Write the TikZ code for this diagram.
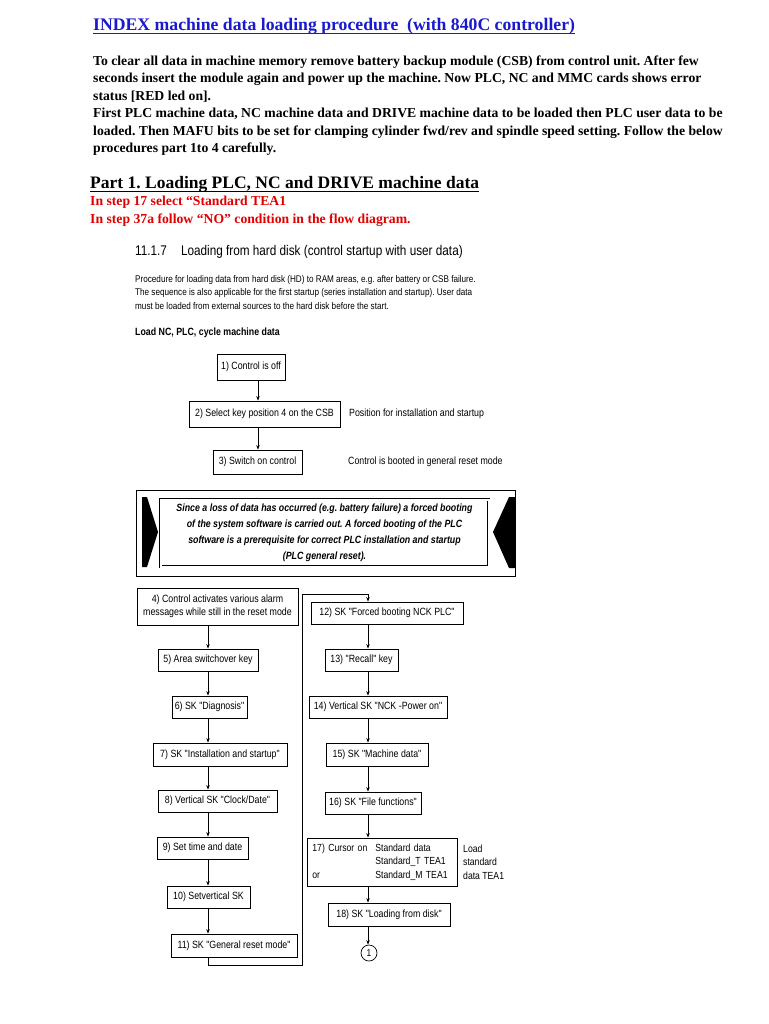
\documentclass[tikz,border=0pt]{standalone}
\usepackage{fontspec}
\setmainfont{Liberation Serif}
\newfontfamily\narrowsf[FakeStretch=0.84]{Liberation Sans}
\usetikzlibrary{arrows.meta,calc}
\definecolor{titleblue}{RGB}{25,25,205}
\definecolor{notered}{RGB}{225,0,0}
\frenchspacing
\tikzset{
  stepbox/.style={draw, line width=0.8pt, inner sep=0pt, align=center,
    font=\narrowsf\fontsize{10.5}{13.5}\selectfont},
  flow/.style={-{Stealth[length=4.5pt,width=3.5pt]}, line width=0.7pt},
  textline/.style={anchor=base west, inner sep=0pt},
  bodytext/.style={textline, font=\bfseries\fontsize{13.7}{15}\selectfont},
  proctext/.style={textline, font=\narrowsf\fontsize{9.7}{12}\selectfont},
  sidetext/.style={anchor=west, inner sep=0pt, font=\narrowsf\fontsize{10.5}{12}\selectfont}
}
\newcommand{\drawstep}{\node[stepbox]}
\newcommand{\drawline}{\node[bodytext]}

\begin{document}
\begin{tikzpicture}[x=1pt,y=-1pt]
  \useasboundingbox[fill=white] (0,0) rectangle (768,1024);

  % heading and notes
  \node[textline, font=\bfseries\fontsize{17.7}{19}\selectfont, text=titleblue] (title) at (93,31)
    {INDEX machine data loading procedure\ \ (with 840C controller)};
  \draw[titleblue, line width=1pt] ($(title.base west)+(0,3)$) -- ($(title.base east)+(0,3)$);

  \drawline (p1) at (93,65.5) {To clear all data in machine memory remove battery backup module (CSB) from control unit. After few};
  \drawline (p2) at (93,83) {seconds insert the module again and power up the machine. Now PLC, NC and MMC cards shows error};
  \drawline (p3) at (93,100.5) {status [RED led on].};
  \drawline (p4) at (93,118) {First PLC machine data, NC machine data and DRIVE machine data to be loaded then PLC user data to be};
  \drawline (p5) at (93,135.5) {loaded. Then MAFU bits to be set for clamping cylinder fwd/rev and spindle speed setting. Follow the below};
  \drawline (p6) at (93,152.5) {procedures part 1to 4 carefully.};

  \node[textline, font=\bfseries\fontsize{17.5}{19}\selectfont] (part) at (90,189)
    {Part 1. Loading PLC, NC and DRIVE machine data};
  \draw[line width=1pt] ($(part.base west)+(0,3)$) -- ($(part.base east)+(0,3)$);
  \drawline[text=notered] (red1) at (90,206) {In step 17 select “Standard TEA1};
  \drawline[text=notered] (red2) at (90,223) {In step 37a follow “NO” condition in the flow diagram.};

  \node[textline, font=\narrowsf\fontsize{14}{16}\selectfont] (sect) at (135,255)
    {11.1.7\quad Loading from hard disk (control startup with user data)};
  \node[proctext] (proc1) at (135,282)
    {Procedure for loading data from hard disk (HD) to RAM areas, e.g. after battery or CSB failure.};
  \node[proctext] (proc2) at (135,295.5)
    {The sequence is also applicable for the first startup (series installation and startup). User data};
  \node[proctext] (proc3) at (135,309)
    {must be loaded from external sources to the hard disk before the start.};
  \node[textline, font=\narrowsf\bfseries\fontsize{10.5}{12}\selectfont] (load) at (135,335)
    {Load NC, PLC, cycle machine data};

  % arrow columns
  \coordinate (colT) at (258,0);
  \coordinate (colL) at (208,0);
  \coordinate (colR) at (368,0);

  % top steps
  \drawstep[minimum width=68pt, minimum height=26pt] (b1) at (251,367) {1) Control is off};
  \drawstep[minimum width=151pt, minimum height=26pt] (b2) at (264.5,414) {2) Select key position 4 on the CSB};
  \drawstep[minimum width=89pt, minimum height=24pt] (b3) at (257.5,462) {3) Switch on control};
  \node[sidetext] (s2) at (349,414) {Position for installation and startup};
  \node[sidetext] (s3) at (348,462) {Control is booted in general reset mode};
  \foreach \a/\b in {b1/b2,b2/b3}
    \draw[flow] (\a.south -| colT) -- (\b.north -| colT);

  % banner
  \node[draw, line width=0.6pt, minimum width=379pt, minimum height=86pt] (banner) at (325.5,533) {};
  \node[draw, double, double distance=2pt, line width=0.6pt, minimum width=328pt, minimum height=67pt,
    align=center, font=\narrowsf\bfseries\itshape\fontsize{10.5}{16}\selectfont] (note) at (324.5,533)
    {Since a loss of data has occurred (e.g. battery failure) a forced booting\\
     of the system software is carried out. A forced booting of the PLC\\
     software is a prerequisite for correct PLC installation and startup\\
     (PLC general reset).};
  \fill (142,497) -- (147,497) -- (158,532) -- (147,567) -- (142,567) -- cycle;
  \fill (515,497) -- (509,497) -- (493,532) -- (509,568) -- (515,568) -- cycle;

  % left column
  \drawstep[minimum width=161pt, minimum height=37pt] (b4) at (217.5,606.5)
    {4) Control activates various alarm\\messages while still in the reset mode};
  \drawstep[minimum width=100pt, minimum height=22pt] (b5) at (208,660) {5) Area switchover key};
  \drawstep[minimum width=75pt, minimum height=22pt] (b6) at (209.5,707) {6) SK "Diagnosis"};
  \drawstep[minimum width=134pt, minimum height=23pt] (b7) at (220,754.5) {7) SK "Installation and startup"};
  \drawstep[minimum width=119pt, minimum height=22pt] (b8) at (217.5,801) {8) Vertical SK "Clock/Date"};
  \drawstep[minimum width=91pt, minimum height=22pt] (b9) at (202.5,848) {9) Set time and date};
  \drawstep[minimum width=83pt, minimum height=22pt] (b10) at (208.5,897) {10) Setvertical SK};
  \drawstep[minimum width=126pt, minimum height=23pt] (b11) at (234,945.5) {11) SK "General reset mode"};

  % right column
  \drawstep[minimum width=152pt, minimum height=22pt] (b12) at (387,613) {12) SK "Forced booting NCK PLC"};
  \drawstep[minimum width=73pt, minimum height=22pt] (b13) at (361.5,660) {13) "Recall" key};
  \drawstep[minimum width=138pt, minimum height=22pt] (b14) at (378,707) {14) Vertical SK "NCK -Power on"};
  \drawstep[minimum width=102pt, minimum height=23pt] (b15) at (377,754.5) {15) SK "Machine data"};
  \drawstep[minimum width=96pt, minimum height=22pt] (b16) at (373,803) {16) SK "File functions"};
  \drawstep[anchor=west, text width=140pt, inner xsep=5pt, minimum height=48pt, align=left,
    font=\narrowsf\fontsize{10.3}{13.5}\selectfont] (b17) at (307,862)
    {\begin{tabular}{@{}p{63pt}@{}l@{}}
       17) Cursor on & Standard data\\
                     & Standard\_T TEA1\\
       or            & Standard\_M TEA1
     \end{tabular}};
  \node[sidetext, align=left, font=\narrowsf\fontsize{10.3}{13.5}\selectfont] (s17) at (463,862)
    {Load\\standard\\data TEA1};
  \drawstep[minimum width=122pt, minimum height=23pt] (b18) at (389,914.5) {18) SK "Loading from disk"};
  \node[draw, circle, line width=0.7pt, minimum size=16pt, inner sep=0pt,
    font=\narrowsf\fontsize{10}{11}\selectfont] (c1) at (369,953) {1};

  \foreach \a/\b in {b4/b5,b5/b6,b6/b7,b7/b8,b8/b9,b9/b10,b10/b11}
    \draw[flow] (\a.south -| colL) -- (\b.north -| colL);
  \foreach \a/\b in {b12/b13,b13/b14,b14/b15,b15/b16,b16/b17,b17/b18,b18/c1}
    \draw[flow] (\a.south -| colR) -- (\b.north -| colR);

  % return from 11 to 12
  \coordinate (loopbot) at (302,965);
  \coordinate (looptop) at (302,594);
  \draw[flow] (b11.south -| colL) |- (loopbot) -- (looptop) -| (b12.north -| colR);
\end{tikzpicture}
\end{document}
